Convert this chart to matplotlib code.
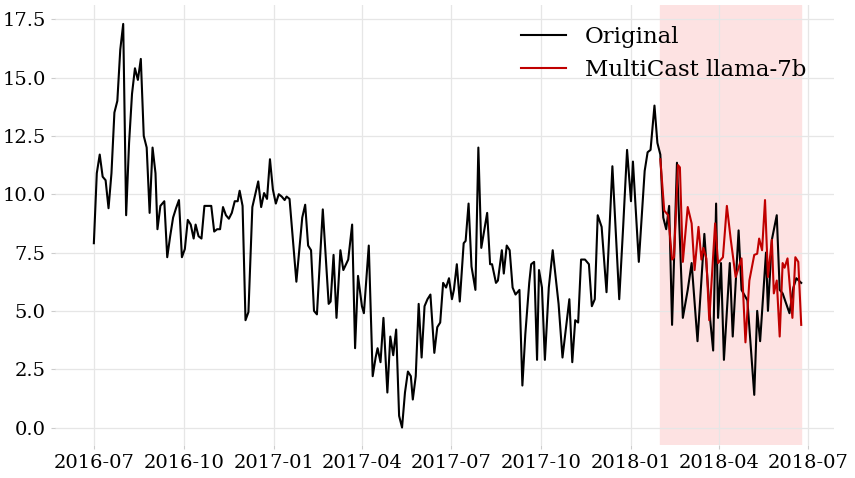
import matplotlib
matplotlib.use('Agg')
import matplotlib.pyplot as plt
import matplotlib.dates as mdates
import numpy as np

START = np.datetime64('2016-07-01')

# day offsets from 2016-07-01 and observed values
orig_days = [0, 3, 6, 9, 12, 15, 18, 21, 24, 27, 30, 33, 36, 39, 42, 45, 48, 51, 54, 57,
             60, 63, 65, 68, 72, 75, 78, 81, 84, 87, 90, 93, 96, 99, 102, 104, 107, 110, 113, 117,
             120, 123, 126, 129, 132, 135, 138, 141, 144, 147, 149, 152, 155, 158, 162, 165, 168, 171, 174, 177,
             180, 183, 186, 189, 192, 195, 197, 200, 207, 213, 216, 219, 222, 225, 228, 234, 240, 242, 245, 248,
             252, 255, 260, 264, 267, 270, 274, 276, 281, 285, 288, 290, 293, 296, 300, 303, 306, 309, 312, 315,
             318, 321, 324, 326, 329, 332, 335, 338, 341, 344, 348, 351, 354, 357, 360, 363, 366, 368, 371, 374,
             378, 380, 383, 386, 390, 393, 396, 402, 405, 407, 411, 413, 417, 419, 422, 425, 428, 431, 435, 438,
             441, 445, 447, 450, 453, 455, 458, 461, 465, 469, 475, 479, 486, 489, 492, 495, 498, 502, 506, 509,
             512, 515, 519, 524, 530, 537, 541, 545, 549, 551, 557, 563, 566, 569, 573, 576, 579, 582, 585, 588,
             591, 596, 602, 607, 611, 617, 624, 630, 633, 636, 638, 641, 644, 650, 653, 659, 662, 668, 675, 678,
             681, 687, 689, 693, 698, 701, 704, 711, 715, 718, 723]
orig_vals = [7.9, 10.9, 11.7, 10.75, 10.6, 9.4, 10.9, 13.5, 14.0, 16.2, 17.3, 9.1, 12.2, 14.3, 15.4, 14.9, 15.8, 12.5, 12.0, 9.2,
             12.0, 10.9, 8.5, 9.5, 9.7, 7.3, 8.2, 9.0, 9.4, 9.75, 7.3, 7.65, 8.9, 8.7, 8.1, 8.7, 8.2, 8.1, 9.5, 9.5,
             9.5, 8.4, 8.5, 8.5, 9.45, 9.1, 8.95, 9.2, 9.7, 9.7, 10.15, 9.5, 4.6, 4.95, 9.45, 10.0, 10.55, 9.45, 10.05, 9.8,
             11.5, 10.2, 9.6, 10.0, 9.9, 9.75, 9.9, 9.8, 6.25, 9.0, 9.55, 7.8, 7.6, 5.0, 4.85, 9.35, 5.3, 5.4, 7.4, 4.7,
             7.6, 6.75, 7.2, 8.7, 3.4, 6.5, 5.2, 4.9, 7.8, 2.2, 3.0, 3.4, 2.8, 4.7, 1.5, 3.9, 3.1, 4.2, 0.5, 0.0,
             1.5, 2.4, 2.2, 1.2, 2.2, 5.3, 3.0, 5.2, 5.5, 5.7, 3.2, 4.3, 4.5, 6.2, 6.0, 6.4, 5.5, 5.9, 7.0, 5.4,
             7.9, 8.0, 9.6, 6.9, 5.9, 12.0, 7.7, 9.2, 7.0, 7.0, 6.2, 6.3, 7.6, 6.6, 7.8, 7.6, 6.0, 5.7, 5.9, 1.8,
             4.0, 6.2, 7.0, 7.1, 2.9, 6.75, 6.0, 2.9, 6.0, 7.6, 5.3, 3.0, 5.5, 2.8, 4.6, 4.5, 7.2, 7.2, 7.0, 5.2,
             5.5, 9.1, 8.6, 5.8, 11.2, 5.5, 8.6, 11.9, 9.7, 11.4, 7.1, 11.0, 11.8, 11.9, 13.8, 12.2, 11.7, 9.0, 8.5, 9.5,
             4.4, 11.35, 4.7, 5.9, 7.05, 3.7, 8.3, 4.6, 3.3, 9.6, 4.7, 7.05, 2.9, 7.05, 3.9, 8.45, 5.9, 5.45, 1.4, 5.0,
             3.7, 7.5, 5.0, 8.05, 9.1, 5.9, 5.75, 4.9, 6.0, 6.4, 6.2]

pred_days = [579, 583, 587, 591, 593, 597, 599, 602, 607, 611, 614, 618, 621, 623, 626, 629, 635, 638, 643, 647,
             651, 656, 662, 666, 670, 675, 678, 680, 683, 686, 689, 693, 695, 698, 701, 704, 706, 709, 714, 717,
             720, 723]
pred_vals = [11.5, 9.3, 9.1, 7.2, 7.3, 11.25, 11.15, 7.1, 9.45, 8.75, 6.75, 8.6, 7.2, 7.7, 7.25, 4.6, 8.75, 7.05, 7.3, 9.5,
             8.05, 6.45, 7.25, 3.65, 6.3, 7.4, 7.45, 8.1, 7.6, 9.75, 6.45, 8.05, 5.75, 6.3, 3.9, 7.05, 6.85, 7.25, 4.7, 7.3,
             7.1, 4.4]

orig_dates = START + np.array(orig_days).astype('timedelta64[D]')
pred_dates = START + np.array(pred_days).astype('timedelta64[D]')

plt.rcParams['font.family'] = 'DejaVu Serif'
fig = plt.figure(figsize=(8.55, 4.78), dpi=100)
ax = fig.add_axes([0.064, 0.069, 0.912, 0.92])

ax.axvspan(pred_dates[0], pred_dates[-1], color='#fde2e2', zorder=0)
ax.plot(orig_dates, orig_vals, color='black', lw=1.5, label='Original', zorder=2)
ax.plot(pred_dates, pred_vals, color='#c00000', lw=1.5, label='MultiCast llama-7b', zorder=3)

ax.set_xlim(START - np.timedelta64(40, 'D'), START + np.timedelta64(757, 'D'))
ax.set_ylim(-0.75, 18.1)
ax.set_yticks(np.arange(0, 17.6, 2.5))
ax.xaxis.set_major_locator(mdates.MonthLocator(bymonth=[1, 4, 7, 10]))
ax.xaxis.set_major_formatter(mdates.DateFormatter('%Y-%m'))
ax.tick_params(labelsize=14, length=3, color='#cccccc')
ax.grid(True, color='#e6e6e6', lw=0.9)
ax.set_axisbelow(True)
for s in ax.spines.values():
    s.set_visible(False)
ax.legend(loc='upper right', fontsize=16.5, frameon=False, bbox_to_anchor=(0.99, 1.0))

fig.savefig('out.png', dpi=100)
